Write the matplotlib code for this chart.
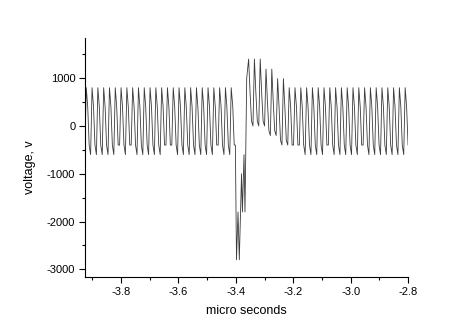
import matplotlib
matplotlib.use("Agg")
import matplotlib.pyplot as plt
import numpy as np
from matplotlib.ticker import MultipleLocator

plt.rcParams['font.family'] = ['Liberation Sans', 'DejaVu Sans']
plt.rcParams['axes.unicode_minus'] = False

# sampling grid of the steady part (micro seconds)
t_start = -3.926
t_step = 0.00505

# before the pulse: one value, then 4 samples per cycle (peak, shoulder, low, trough)
pre_volts = [-500,
    800, 400, -400, -600,  800, 400, -400, -600,  800, 400, -400, -600,
    800, 400, -400, -600,  800, 400, -400, -600,  800, 400, -400, -400,
    800, 400, -400, -600,  800, 400, -400, -400,  800, 400, -400, -600,
    800, 400, -400, -600,  800, 400, -400, -600,  800, 400, -400, -600,
    800, 400, -400, -600,  800, 400, -400, -400,  800, 400, -400, -400,
    800, 400, -400, -600,  800, 400, -400, -600,  800, 400, -400, -600,
    800, 400, -400, -600,  800, 400, -400, -600,  800, 400, -400, -600,
    800, 400, -400, -600,  800, 400, -400, -400,  800, 400, -400, -600,
    800, 400, -400, -600,
    800]

# the pulse itself
pulse_t = [-3.4105, -3.4055, -3.4015, -3.3976, -3.3923, -3.3878, -3.3800,
           -3.3770, -3.3714, -3.3680, -3.3620]
pulse_v = [400, -400, -400, -2800, -1800, -2800, -1000, -1800, -600, -1800, 1000]

# after the pulse, same grid, first sample is a peak
post_first = 113
post_volts = [
    1400, 700, 100, 0,  1400, 700, 100, 0,  1400, 700, 100, 0,
    1190, 500, -100, -200,  1190, 500, -100, -200,
    990, 400, -300, -400,  990, 400, -300, -400,
    800, 400, -400, -400,  800, 400, -400, -400,  800, 400, -400, -600,
    800, 400, -400, -600,  800, 400, -400, -600,  800, 400, -400, -600,
    800, 400, -400, -400,  800, 400, -400, -600,  800, 400, -400, -600,
    800, 400, -400, -600,  800, 400, -400, -600,  800, 400, -400, -600,
    800, 400, -400, -400,  800, 400, -400, -600,  800, 400, -400, -600,
    800, 400, -400, -600,  800, 400, -400, -600,  800, 400, -400, -600,
    800, 400, -400, -600,  800, 400, -400, -600,  800, 400, -400, -400,
    800, 400, -400, -600,  800, 400, -400, -400]

pre_t = t_start + t_step * np.arange(len(pre_volts))
post_t = t_start + t_step * (post_first + np.arange(len(post_volts)))
t = np.concatenate([pre_t, pulse_t, post_t])
v = np.concatenate([pre_volts, pulse_v, post_volts])

fig = plt.figure(figsize=(4.74, 3.33), dpi=100)
ax = fig.add_axes([0.1793, 0.1682, 0.6815, 0.7177])
ax.plot(t, v, color='#3a3a3a', lw=0.6)

ax.set_xlim(-3.9254, -2.8)
ax.set_ylim(-3160, 1840)
ax.xaxis.set_major_locator(MultipleLocator(0.2))
ax.xaxis.set_minor_locator(MultipleLocator(0.1))
ax.yaxis.set_major_locator(MultipleLocator(1000))
ax.yaxis.set_minor_locator(MultipleLocator(500))
ax.spines['top'].set_visible(False)
ax.spines['right'].set_visible(False)
ax.tick_params(which='major', length=4, width=0.8, labelsize=8, pad=3)
ax.tick_params(which='minor', length=2.5, width=0.8)

ax.set_xlabel('micro seconds', fontsize=9)
ax.set_ylabel('voltage, v', fontsize=9)
ax.xaxis.set_label_coords(0.5, -0.117)
ax.yaxis.set_label_coords(-0.151, 0.458)

fig.savefig('out.png', dpi=100)
